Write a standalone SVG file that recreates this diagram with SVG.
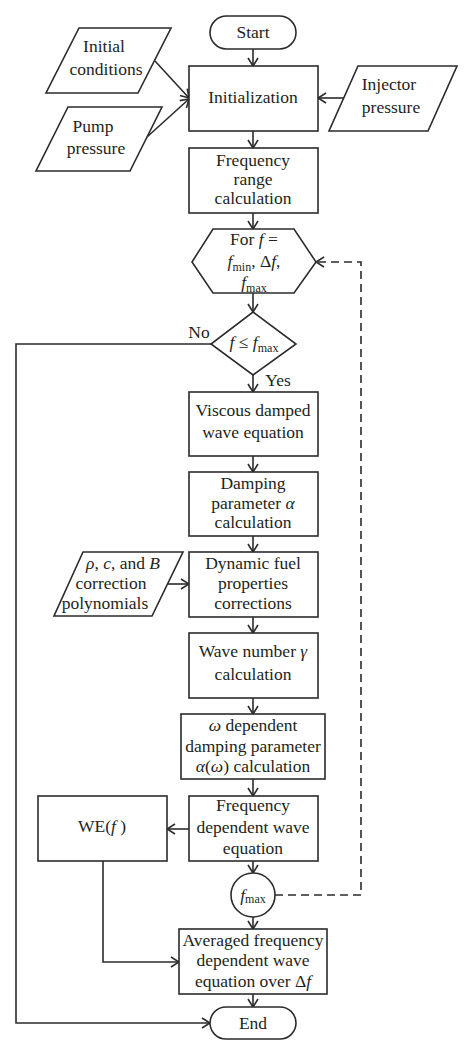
<svg xmlns="http://www.w3.org/2000/svg" width="474" height="1056" viewBox="0 0 474 1056">
<style>
.s{fill:#fff;stroke:#2b2b2b;stroke-width:1.6}
.t{font-family:"Liberation Serif","Times New Roman",serif;font-size:17.5px;fill:#231f20;text-anchor:middle}
.i{font-style:italic}
.c{fill:none;stroke:#2b2b2b;stroke-width:1.6}
.d{fill:none;stroke:#2b2b2b;stroke-width:1.6;stroke-dasharray:8 5}
</style>
<defs>
<marker id="a" markerUnits="userSpaceOnUse" markerWidth="10" markerHeight="12" viewBox="0 0 10 12" refX="9" refY="6" orient="auto">
<path d="M1,1 L9,6 L1,11" fill="none" stroke="#2b2b2b" stroke-width="1.6"/>
</marker>
</defs>
<rect width="474" height="1056" fill="#fff"/>
<g id="connectors">
<path class="c" d="M253,49 V66" marker-end="url(#a)"/>
<path class="c" d="M155,61 L189,98" marker-end="url(#a)"/>
<path class="c" d="M147,137 L189,99" marker-end="url(#a)"/>
<path class="c" d="M344,98 H318" marker-end="url(#a)"/>
<path class="c" d="M253,131 V148" marker-end="url(#a)"/>
<path class="c" d="M253,213 V229" marker-end="url(#a)"/>
<path class="c" d="M253,293 V312" marker-end="url(#a)"/>
<path class="c" d="M253,375 V392" marker-end="url(#a)"/>
<path class="c" d="M253,456 V472" marker-end="url(#a)"/>
<path class="c" d="M253,536 V552" marker-end="url(#a)"/>
<path class="c" d="M168,584 H189" marker-end="url(#a)"/>
<path class="c" d="M253,617 V633" marker-end="url(#a)"/>
<path class="c" d="M253,698 V714" marker-end="url(#a)"/>
<path class="c" d="M253,779 V796" marker-end="url(#a)"/>
<path class="c" d="M189,829 H167" marker-end="url(#a)"/>
<path class="c" d="M253,861 V873" marker-end="url(#a)"/>
<path class="c" d="M253,917 V929" marker-end="url(#a)"/>
<path class="c" d="M103,861 V962 H179" marker-end="url(#a)"/>
<path class="c" d="M253,994 V1007" marker-end="url(#a)"/>
<path class="c" d="M211,344 H16 V1023 H210" marker-end="url(#a)"/>
<path class="d" d="M275,895 H361 V262 H316" marker-end="url(#a)"/>
<text class="t" x="199" y="338">No</text>
<text class="t" x="278" y="386">Yes</text>
</g>
<g id="start">
<rect class="s" x="210" y="16" width="86" height="33" rx="16.5"/>
<text class="t" x="253" y="38">Start</text>
</g>
<g id="initial-conditions">
<polygon class="s" points="79,28 171,28 138,93 46,93"/>
<text class="t" x="104" y="52">Initial</text>
<text class="t" x="106" y="75">conditions</text>
</g>
<g id="pump-pressure">
<polygon class="s" points="68,107 162,107 130,171 36,171"/>
<text class="t" x="93" y="132">Pump</text>
<text class="t" x="96" y="154">pressure</text>
</g>
<g id="injector-pressure">
<polygon class="s" points="358,66 457,66 428,131 329,131"/>
<text class="t" x="389" y="90">Injector</text>
<text class="t" x="391" y="113">pressure</text>
</g>
<g id="initialization">
<rect class="s" x="189" y="66" width="129" height="65"/>
<text class="t" x="253" y="103">Initialization</text>
</g>
<g id="frequency-range">
<rect class="s" x="189" y="148" width="129" height="65"/>
<text class="t" x="253" y="166">Frequency</text>
<text class="t" x="253" y="185">range</text>
<text class="t" x="253" y="204">calculation</text>
</g>
<g id="loop">
<polygon class="s" points="213,229 294,229 316,262 294,293 213,293 192,262"/>
<text class="t" x="254" y="245">For <tspan class="i">f</tspan> =</text>
<text class="t" x="254" y="267"><tspan class="i">f</tspan><tspan font-size="12" dy="4">min</tspan><tspan dy="-4">, Δ</tspan><tspan class="i">f</tspan>,</text>
<text class="t" x="254" y="288"><tspan class="i">f</tspan><tspan font-size="12" dy="4">max</tspan></text>
</g>
<g id="decision">
<polygon class="s" points="253,312 296,344 253,375 211,344"/>
<text class="t" x="254" y="348"><tspan class="i">f</tspan> ≤ <tspan class="i">f</tspan><tspan font-size="12" dy="4">max</tspan></text>
</g>
<g id="viscous">
<rect class="s" x="189" y="392" width="129" height="64"/>
<text class="t" x="253" y="416">Viscous damped</text>
<text class="t" x="253" y="438">wave equation</text>
</g>
<g id="damping">
<rect class="s" x="189" y="472" width="129" height="64"/>
<text class="t" x="253" y="489">Damping</text>
<text class="t" x="253" y="509">parameter <tspan class="i">α</tspan></text>
<text class="t" x="253" y="528">calculation</text>
</g>
<g id="correction-polynomials">
<polygon class="s" points="83,552 183,552 152,616 54,616"/>
<text class="t" x="123" y="569"><tspan class="i">ρ</tspan>, <tspan class="i">c</tspan>, and <tspan class="i">B</tspan></text>
<text class="t" x="111" y="589">correction</text>
<text class="t" x="105" y="609">polynomials</text>
</g>
<g id="dynamic">
<rect class="s" x="189" y="552" width="129" height="65"/>
<text class="t" x="253" y="569">Dynamic fuel</text>
<text class="t" x="253" y="589">properties</text>
<text class="t" x="253" y="609">corrections</text>
</g>
<g id="wave-number">
<rect class="s" x="189" y="633" width="129" height="65"/>
<text class="t" x="253" y="657">Wave number <tspan class="i">γ</tspan></text>
<text class="t" x="253" y="680">calculation</text>
</g>
<g id="omega">
<rect class="s" x="181" y="714" width="144" height="65"/>
<text class="t" x="253" y="731"><tspan class="i">ω</tspan> dependent</text>
<text class="t" x="253" y="752">damping parameter</text>
<text class="t" x="253" y="772"><tspan class="i">α</tspan>(<tspan class="i">ω</tspan>) calculation</text>
</g>
<g id="frequency-dependent">
<rect class="s" x="189" y="796" width="129" height="65"/>
<text class="t" x="253" y="811">Frequency</text>
<text class="t" x="253" y="833">dependent wave</text>
<text class="t" x="253" y="854">equation</text>
</g>
<g id="we">
<rect class="s" x="38" y="796" width="129" height="65"/>
<text class="t" x="102" y="832">WE(<tspan class="i">f</tspan> )</text>
</g>
<g id="fmax">
<circle class="s" cx="253" cy="895" r="22"/>
<text class="t" x="253" y="901"><tspan class="i">f</tspan><tspan font-size="12" dy="2">max</tspan></text>
</g>
<g id="averaged">
<rect class="s" x="179" y="929" width="148" height="65"/>
<text class="t" x="253" y="946">Averaged frequency</text>
<text class="t" x="253" y="966">dependent wave</text>
<text class="t" x="253" y="987">equation over Δ<tspan class="i">f</tspan></text>
</g>
<g id="end">
<rect class="s" x="210" y="1007" width="86" height="32" rx="16"/>
<text class="t" x="253" y="1029">End</text>
</g>
</svg>
